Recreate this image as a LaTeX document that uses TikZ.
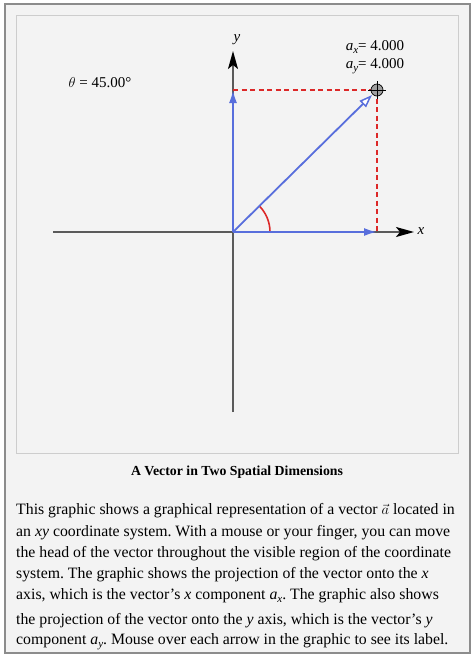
\documentclass[tikz,border=0pt]{standalone}
\usepackage{fontspec}
\setmainfont{Liberation Serif}
\usetikzlibrary{arrows.meta}
\definecolor{vblue}{RGB}{88,110,220}
\definecolor{vred}{RGB}{220,40,40}
\definecolor{bggray}{RGB}{243,243,243}
\definecolor{outline}{RGB}{140,140,140}
\definecolor{inline}{RGB}{205,205,205}
\definecolor{axisgray}{RGB}{90,90,90}
\frenchspacing
\tikzset{
  axisline/.style={draw=axisgray,line width=1.6pt},
  axistip/.style={-{Stealth[length=18pt,width=10pt,inset=4pt,black]}},
  comp/.style={draw=vblue,line width=2pt,-{Latex[length=13pt,width=8pt,vblue]}},
  vec/.style={draw=vblue,line width=1.8pt,-{Triangle[open,length=13pt,width=9pt,fill=white,line width=1.5pt]}},
  proj/.style={draw=vred,line width=1.6pt,dash pattern=on 5pt off 3.5pt},
  lbl/.style={font=\fontsize{15}{17}\selectfont,inner sep=0pt},
  para/.style={font=\fontsize{15.8}{18}\selectfont,inner sep=0pt,anchor=base west},
  sub/.style={},
}
\newcommand{\sbx}[1]{\raisebox{-0.45ex}{\fontsize{11}{12}\selectfont\itshape #1}}
\begin{document}
\begin{tikzpicture}[x=1pt,y=-1pt]
\useasboundingbox (0,0) rectangle (474,665);
\fill[white] (0,0) rectangle (474,665);
\draw[outline,line width=1.5pt,fill=bggray] (5,4) rectangle (470,653);
\draw[inline,line width=1pt,fill=bggray] (16,15) rectangle (458,453);
% coordinates
\coordinate (O) at (233,232);
\coordinate (H) at (377,90);
\coordinate (Hx) at (377,232);
\coordinate (Hy) at (233,90);
\coordinate (xl) at (53,232);
\coordinate (xr) at (414,232);
\coordinate (yb) at (233,412);
\coordinate (yt) at (233,51);
% axes
\draw[axisline] (xl) -- (O);
\draw[axisline] (yb) -- (O);
\draw[axisline,axistip] (O) -- (xr);
\draw[axisline,axistip] (O) -- (yt);
% projections
\draw[proj] (Hy) -- (H);
\draw[proj] (H) -- (Hx);
% angle arc
\draw[vred,line width=1.6pt] ([shift={(37,0)}]O) arc[start angle=0,end angle=-45,radius=37];
% components
\draw[comp] (O) -- (Hx);
\draw[comp] (O) -- (Hy);
% vector
\draw[vec] (O) -- ([shift={(-5,5)}]H);
% head handle
\node[circle,draw=black,fill=gray!75,line width=0.7pt,minimum size=12pt,inner sep=0pt] (hd) at (H) {};
\draw[black,line width=0.9pt] ([shift={(-9,0)}]H) -- ([shift={(9,0)}]H);
\draw[black,line width=0.9pt] ([shift={(0,-9)}]H) -- ([shift={(0,9)}]H);
% labels
\node[lbl] (xlab) at (421,231) {\itshape x};
\node[lbl] (ylab) at (237,40) {\itshape y};
\node[lbl] (theta) at (100,83) {$\theta$ = 45.00°};
\node[lbl] (ax) at (375,47) {\textit{a}\sbx{x}= 4.000};
\node[lbl] (ay) at (375,66) {\textit{a}\sbx{y}= 4.000};
% caption
\node[lbl,font=\fontsize{13.8}{16}\selectfont\bfseries] (cap) at (237,472) {A Vector in Two Spatial Dimensions};
\node[para] (l1) at (16,514) {This graphic shows a graphical representation of a vector $\vec{a}$ located in};
\node[para] (l2) at (16,536) {an \textit{xy} coordinate system. With a mouse or your finger, you can move};
\node[para] (l3) at (16,557) {the head of the vector throughout the visible region of the coordinate};
\node[para] (l4) at (16,578) {system. The graphic shows the projection of the vector onto the \textit{x}};
\node[para] (l5) at (16,599) {axis, which is the vector’s \textit{x} component \textit{a}\sbx{x}. The graphic also shows};
\node[para] (l6) at (16,624) {the projection of the vector onto the \textit{y} axis, which is the vector’s \textit{y}};
\node[para] (l7) at (16,644) {component \textit{a}\sbx{y}. Mouse over each arrow in the graphic to see its label.};
\end{tikzpicture}
\end{document}
